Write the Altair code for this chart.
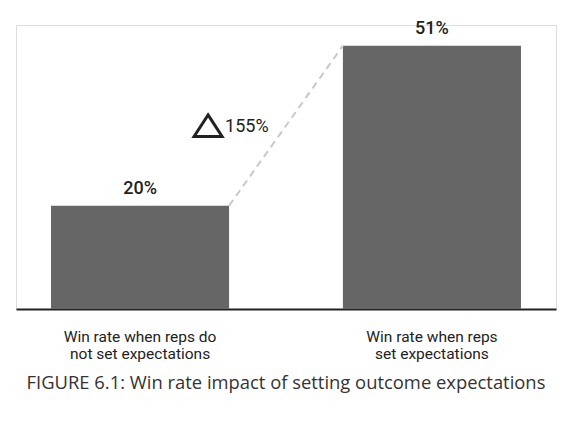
import altair as alt
import pandas as pd

categories = ["Win rate when reps do\nnot set expectations", "Win rate when reps\nset expectations"]
values = [20, 51]
value_labels = ["20%", "51%"]
caption = "FIGURE 6.1: Win rate impact of setting outcome expectations"

bars_df = pd.DataFrame({"cat": categories, "val": values, "lab": value_labels})
change = round((values[1] - values[0]) / values[0] * 100)
link_df = pd.DataFrame({
    "from": [categories[0]], "to": [categories[1]],
    "y1": [values[0]], "y2": [values[1]],
    "mid": [(values[0] + values[1]) / 2],
    "lab": [f"{change}%"],
})

xscale = alt.Scale(domain=categories, paddingInner=0.39, paddingOuter=0.12)
yscale = alt.Scale(domain=[0, 55])

xaxis = alt.Axis(title=None, ticks=False, domain=True, domainColor="#222222", domainWidth=2,
                 labelAngle=0, labelFont="Roboto", labelFontSize=15.5, labelColor="#222222",
                 labelPadding=20.5, labelLineHeight=17,
                 labelExpr="split(datum.label, '\\n')", grid=False)

bars = alt.Chart(bars_df).mark_bar(color="#666666").encode(
    x=alt.X("cat:N", scale=xscale, axis=xaxis, sort=None),
    y=alt.Y("val:Q", scale=yscale, axis=None),
)
texts = alt.Chart(bars_df).mark_text(font="Roboto", fontSize=18, fontWeight=500, color="#222222",
                                     baseline="alphabetic", dy=-12).encode(
    x=alt.X("cat:N", scale=xscale, sort=None),
    y=alt.Y("val:Q", scale=yscale),
    text="lab:N",
)
link = alt.Chart(link_df).mark_rule(color="#c8c8c8", strokeWidth=2, strokeDash=[7, 5]).encode(
    x=alt.X("from:N", scale=xscale, bandPosition=1),
    x2=alt.X2("to:N", bandPosition=0),
    y=alt.Y("y1:Q", scale=yscale),
    y2="y2:Q",
)
# triangle symbol drawn 21px left of the anchor (path units = 14px at size 784)
tri = alt.Chart(link_df).mark_point(shape="M-1.5,-0.77L-0.5,0.77L-2.5,0.77Z", size=784, filled=False,
                                    stroke="#222222", strokeWidth=3, opacity=1).encode(
    x=alt.X("from:N", scale=xscale, bandPosition=1),
    y=alt.Y("mid:Q", scale=yscale),
)
pct = alt.Chart(link_df).mark_text(font="Roboto", fontSize=18, color="#222222", align="left",
                                   baseline="alphabetic", dx=-4, dy=6).encode(
    x=alt.X("from:N", scale=xscale, bandPosition=1),
    y=alt.Y("mid:Q", scale=yscale),
    text="lab:N",
)

chart = alt.layer(bars, link, texts, tri, pct).properties(
    width=540, height=284,
    padding={"left": 8, "top": 11, "right": 5, "bottom": 5},
    title=alt.TitleParams(caption, orient="bottom", font="Open Sans", fontSize=18.4, fontWeight="normal",
                          color="#333333", anchor="middle", offset=12),
).configure_view(stroke=None).configure(background="white")

chart.save("out.html", embed_options={"renderer": "svg", "actions": False})
